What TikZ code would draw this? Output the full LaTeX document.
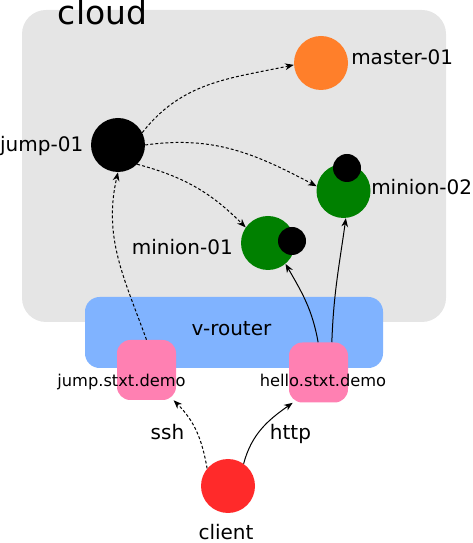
\documentclass[tikz,border=0pt]{standalone}
\usepackage{fontspec}
\setmainfont{DejaVu Sans}
\usetikzlibrary{arrows.meta}
\definecolor{cloudgrey}{HTML}{E5E5E5}
\definecolor{mastor}{HTML}{FF7F2A}
\definecolor{mingreen}{HTML}{008000}
\definecolor{routerblue}{HTML}{80B3FF}
\definecolor{boxpink}{HTML}{FF80B2}
\definecolor{clientred}{HTML}{FF2A2A}
\tikzset{
  x=0.75pt, y=0.75pt,
  host/.style={circle, minimum size=40.5pt, inner sep=0pt, draw=none},
  pod/.style={circle, minimum size=21pt, inner sep=0pt, fill=black},
  dnsbox/.style={rounded corners=10pt, fill=boxpink, minimum width=44.25pt, minimum height=45pt, inner sep=0pt},
  biglabel/.style={inner sep=0pt, font=\fontsize{15}{18}\selectfont},
  smalllabel/.style={inner sep=0pt, font=\fontsize{12.2}{14}\selectfont},
  conn/.style={line width=0.75pt, -{Stealth[length=6.5pt,width=5pt,inset=2pt]}},
  dconn/.style={conn, dash pattern=on 2.2pt off 1.6pt},
}
\begin{document}
\begin{tikzpicture}
\useasboundingbox (0,0) rectangle (473,543);
% cloud area
\node[draw=none, fill=cloudgrey, rounded corners=18pt, minimum width=318pt, minimum height=234pt, inner sep=0pt] (cloudbox) at (234,377) {};
\node[anchor=base, inner sep=0pt, font=\fontsize{24.7}{28}\selectfont] (cloudlbl) at (102.5,518) {cloud};
% v-router
\node[fill=routerblue, rounded corners=11pt, minimum width=223.5pt, minimum height=53.25pt, inner sep=0pt] (vrouter) at (234,210.5) {};
\node[biglabel, anchor=base] (vrouterlbl) at (231.5,207) {v-router};
% hosts
\node[host, fill=mastor] (master) at (321,480) {};
\node[biglabel, anchor=base west] (masterlbl) at (351,478) {master-01};
\node[host, fill=black] (jump) at (118,398) {};
\node[biglabel, anchor=base east] (jumplbl) at (83.5,391) {jump-01};
\node[host, fill=mingreen] (minion2) at (343.5,352) {};
\node[pod] (pod2) at (347,375) {};
\node[biglabel, anchor=base west] (minion2lbl) at (371,348) {minion-02};
\node[host, fill=mingreen] (minion1) at (268,300) {};
\node[pod] (pod1) at (292,302) {};
\node[biglabel, anchor=base east] (minion1lbl) at (233,288) {minion-01};
% dns boxes
\node[dnsbox] (jumpbox) at (146.5,173) {};
\node[dnsbox] (hellobox) at (318.5,170.5) {};
\node[smalllabel, anchor=base] (jumpboxlbl) at (121.5,156) {jump.stxt.demo};
\node[smalllabel, anchor=base] (helloboxlbl) at (323,156) {hello.stxt.demo};
% client
\node[host, fill=clientred] (client) at (228,57) {};
\node[biglabel, anchor=base] (clientlbl) at (226,3.5) {client};
\node[biglabel, anchor=base] (sshlbl) at (167.5,103) {ssh};
\node[biglabel, anchor=base] (httplbl) at (290.5,103) {http};
% connectors
\draw[dconn] (jumpbox.north) to[out=110,in=-103] (jump.south);
\draw[dconn] (jump.27) to[out=52,in=192] (master.184);
\draw[dconn] (jump.east) to[out=8,in=152] (minion2.170);
\draw[dconn] (jump.-45) to[out=-15,in=135] (minion1.145);
\draw[conn] ([xshift=-0.3pt]hellobox.north) to[out=100,in=-60] (minion1.-50);
\draw[conn] ([xshift=10pt]hellobox.north) to[out=88,in=-98] (minion2.-85);
\draw[dconn] (client.140) to[out=100,in=-45] ([xshift=-2pt]jumpbox.south east);
\draw[conn] (client.55) to[out=75,in=215] ([xshift=3pt]hellobox.south west);
\end{tikzpicture}
\end{document}
